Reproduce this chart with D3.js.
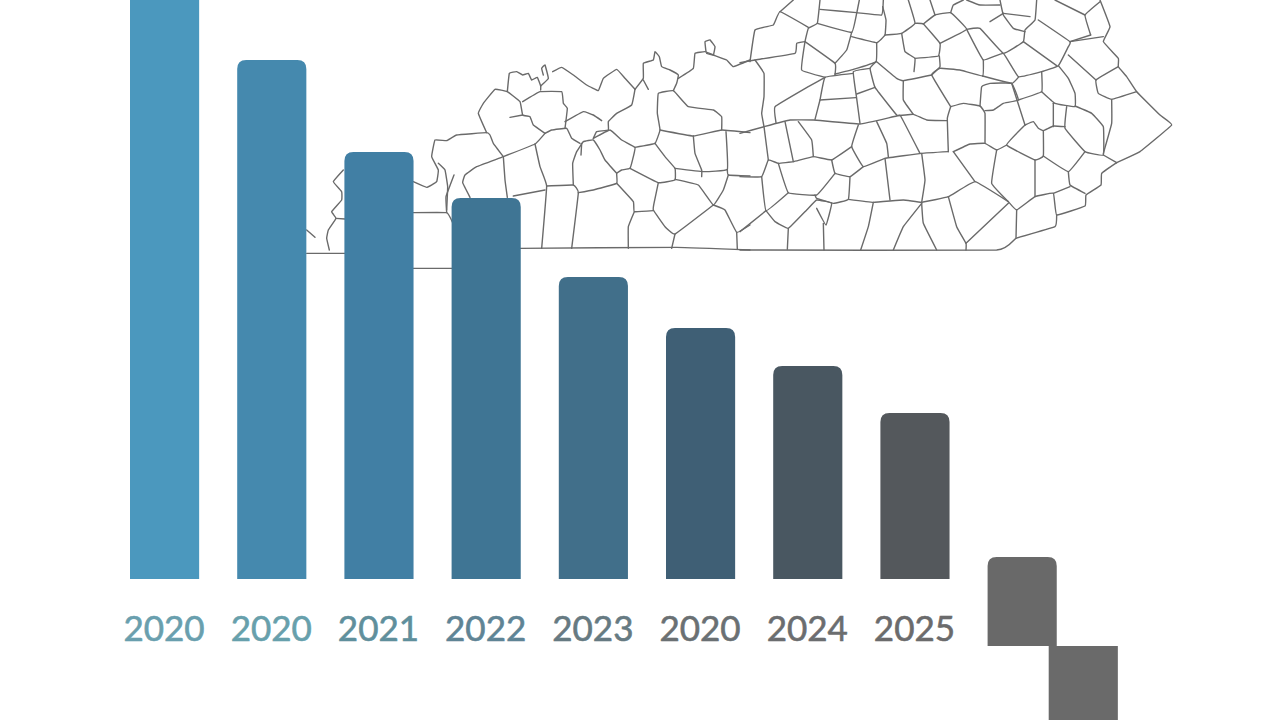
<!DOCTYPE html>
<html><head><meta charset="utf-8">
<style>html,body{margin:0;padding:0;background:#fff;overflow:hidden}svg{display:block}</style>
<script src="https://cdnjs.cloudflare.com/ajax/libs/d3/7.8.5/d3.min.js"></script>
</head><body><svg id="c" width="1280" height="720"></svg>
<script>
const barSlots  = [0,1,2,3,4,5,6,7,8,8.57];
const barTops   = [600,519,427,381,302,251,213,166,22,-67];
const barBases  = [0,0,0,0,0,0,0,0,-67,-160];
const barColors = ["#4b98be","#4589ae","#417fa4","#3f7594","#416f8a","#3f5f75","#495761","#54585c","#696969","#6a6a6a"];
const tickLabels = ["2020","2020","2021","2022","2023","2020","2024","2025"];
const tickColors = ["#699fae","#67a0ac","#5f8f9c","#5f8495","#667a82","#6a7073","#6b6d6f","#6b6b6c"];

const mapWest = [
[[130,510],[100,545],[125,575],[125,600],[95,635],[108,655],[85,690],[80,715],[88,750]],
[[20,760],[135,760]],[[340,805],[460,805]],[[20,690],[45,712]],[[135,657],[108,655]],
[[340,545],[380,562],[410,545],[415,510],[395,470],[405,420],[440,422],[470,405],[560,398],[570,405],[580,430],[610,470]],
[[560,398],[535,340],[550,310],[585,268],[622,275],[660,305],[668,345],[690,350],[700,375],[735,400]],
[[668,345],[630,352]],
[[622,275],[628,220],[650,215],[668,225],[685,220],[695,240],[712,232],[722,258],[722,270]],
[[722,258],[745,235],[735,195],[725,205],[730,225]],
[[758,215],[785,202],[820,225],[860,255],[895,272],[910,235],[950,208],[975,235],[1005,268]],
[[668,305],[720,275],[785,275],[790,310],[802,325],[795,385]],
[[795,365],[850,335],[880,345],[905,362]],
[[735,400],[755,390],[800,385],[815,415],[840,430]],
[[735,400],[705,432],[610,470],[530,500],[495,525],[488,548],[510,592]],
[[610,470],[615,540],[622,592]],
[[705,432],[720,500],[740,558],[725,745]],
[[640,588],[735,570]],
[[740,558],[820,555],[835,578],[815,745]],
[[820,555],[818,490],[830,455],[850,425],[880,420],[900,450],[915,480],[950,520]],
[[845,430],[843,465]],
[[835,578],[880,570],[950,550],[950,520],[965,510],[990,505],[1000,470],[1005,442],[965,420],[930,390],[880,415]],
[[880,415],[890,395],[925,390],[925,365],[950,340],[995,315],[1005,268]],
[[1005,268],[1030,235],[1030,190],[1060,180],[1065,155],[1078,170],[1085,200],[1110,210],[1135,225],[1130,250],[1120,272]],
[[1135,235],[1180,205],[1185,160],[1215,155],[1240,165],[1280,180],[1300,200],[1350,180]],
[[1218,155],[1215,125],[1230,120],[1245,140],[1240,165],[1220,160]],
[[1030,240],[1045,268]],
[[1005,442],[1065,430],[1080,390],[1072,340],[1075,280],[1120,272],[1165,320],[1240,330],[1265,350],[1265,390]],
[[1080,390],[1180,408],[1265,390],[1350,398]],
[[1065,430],[1095,470],[1125,505],[1125,540],[1075,548],[990,505]],
[[1180,408],[1185,460],[1205,510],[1205,530]],
[[1125,505],[1210,515],[1282,508],[1278,395]],
[[1282,508],[1285,525],[1350,528]],
[[1285,525],[1270,570],[1240,615],[1195,555],[1125,538]],
[[1075,548],[1062,610],[1060,630],[1095,680],[1125,702],[1240,615]],
[[950,550],[1000,605],[1003,635],[1060,632]],
[[1003,635],[985,680],[985,745]],
[[1125,702],[1115,745]],
[[1240,615],[1275,630],[1310,697],[1350,675]],
[[1310,697],[1312,748]],
[[660,745],[1130,742],[1350,750]],
[[340,638],[440,638],[458,668]],
[[440,638],[438,590],[462,525]],
[[415,490],[435,510],[443,560],[440,630]]
];
const mapEast = [
[[0,188],[45,180],[165,160],[170,130],[195,125]],
[[45,180],[72,220],[72,290],[65,340],[72,380]],
[[0,400],[72,380],[150,360],[220,360],[360,372],[470,348],[520,343],[560,360],[620,362]],
[[30,185],[45,90],[100,75],[120,35],[205,82]],
[[120,35],[160,0]],
[[240,0],[232,70],[205,85],[195,125],[185,210],[255,232]],
[[195,125],[285,190],[285,225]],
[[232,70],[335,97],[350,40],[358,0]],
[[240,28],[350,38],[425,45],[430,0]],
[[335,97],[320,150],[285,190]],
[[335,110],[410,128],[435,105],[438,60],[428,20]],
[[410,128],[408,185],[340,208],[285,222]],
[[435,105],[485,100],[525,70],[505,0]],
[[485,100],[495,155],[525,175],[522,215]],
[[525,175],[595,168],[600,130],[550,72],[525,70]],
[[550,72],[585,45],[632,38],[680,88],[600,130]],
[[585,45],[570,0]],
[[632,38],[640,15],[670,0]],
[[680,88],[720,85],[790,160],[850,125],[855,90],[885,60],[890,0]],
[[680,88],[730,180],[790,160],[835,230],[905,215],[955,197],[985,140],[990,125],[895,60]],
[[850,125],[950,197]],
[[598,168],[600,200],[575,225]],
[[730,180],[728,228],[660,210],[600,205],[575,225],[632,320]],
[[575,225],[490,242],[470,235],[410,185]],
[[408,185],[390,205],[405,262],[470,345],[482,348],[540,460]],
[[390,205],[340,215],[350,295],[360,370]],
[[340,220],[255,232],[240,300],[225,358]],
[[255,232],[205,260],[105,320],[108,368]],
[[240,300],[348,293]],
[[350,282],[405,262]],
[[490,242],[490,300],[520,343]],
[[632,320],[622,355],[625,455]],
[[632,320],[670,310],[720,318],[735,340],[735,430]],
[[720,318],[725,260],[750,250],[815,250],[835,300],[790,310],[760,330],[735,332]],
[[728,228],[815,250],[835,232]],
[[835,300],[905,275],[905,215]],
[[815,250],[855,375]],
[[905,275],[945,310],[1005,320],[1005,280],[985,235],[955,197]],
[[940,310],[940,380]],
[[980,320],[975,385],[1035,455],[1090,465],[1090,380],[1055,340],[1005,318]],
[[855,375],[880,365],[895,385],[910,392],[940,378],[975,380]],
[[855,375],[800,435],[885,480],[910,468],[910,392]],
[[910,468],[985,515],[1035,455]],
[[885,480],[885,590]],
[[800,435],[770,450],[735,430],[690,432],[640,455]],
[[770,450],[755,550],[805,605]],
[[625,455],[545,460],[435,475],[370,500],[335,440],[355,375]],
[[410,365],[440,430],[445,470]],
[[335,440],[275,480],[220,470],[160,485],[115,490],[85,480],[65,530],[0,530]],
[[72,380],[85,480]],
[[135,365],[160,485]],
[[175,365],[215,420],[220,470]],
[[275,480],[285,520],[330,530],[370,500]],
[[285,520],[230,585],[145,578],[115,490]],
[[330,530],[325,598],[280,610],[230,595],[225,585]],
[[435,475],[450,600]],
[[325,598],[400,607],[490,600],[545,607],[625,590],[705,545],[805,605]],
[[545,460],[555,540],[545,607]],
[[640,455],[705,545]],
[[65,530],[78,632],[145,578]],
[[78,632],[0,695]],
[[78,632],[105,665],[145,685],[200,630],[230,600],[275,610],[258,675],[230,625]],
[[145,685],[142,748]],
[[250,670],[252,750]],
[[400,607],[385,680],[362,750]],
[[545,610],[490,680],[460,750]],
[[545,610],[550,670],[590,750]],
[[625,590],[650,680],[678,730],[678,750]],
[[678,730],[805,610]],
[[805,605],[830,630],[885,590],[940,580],[950,645],[1035,618],[1038,585],[1083,555],[1085,520],[1130,488]],
[[830,630],[828,715]],
[[0,750],[770,750],[828,715],[945,680],[950,645]],
[[1130,488],[1090,465]],
[[1130,488],[1200,455],[1295,375],[1260,345],[1190,275],[1160,230],[1135,200],[1135,175],[1090,125],[1110,80],[1080,0]],
[[1190,275],[1115,298],[1075,280],[1068,240],[1135,200]],
[[1068,240],[985,165]],
[[990,125],[1090,110]],
[[1115,298],[1115,370],[1090,460]],
[[1052,105],[1035,45],[1080,5]],
[[1035,45],[945,0]],
[[1052,105],[990,125]],
[[985,515],[990,555],[1035,580]],
[[940,580],[990,560]],
[[780,0],[790,45],[820,85],[855,95]],
[[790,40],[750,65]],
[[790,40],[870,50]],
[[680,0],[720,15],[780,15]]
];

const svg = d3.select("#c");
const x = d3.scaleLinear().domain([0,1]).range([130,237.2]);
const y = d3.scaleLinear().domain([0,579]).range([579,0]);
const barW = x(0.645)-x(0);

const mapY = d3.scaleLinear().domain([0,840]).range([0,280]);
const westX = d3.scaleLinear().domain([0,1350]).range([300,750]);
const eastX = d3.scaleLinear().domain([0,1320]).range([740,1180]);
const lineW = d3.line().x(d=>westX(d[0])).y(d=>mapY(d[1])).curve(d3.curveCardinal.tension(0.75));
const lineE = d3.line().x(d=>eastX(d[0])).y(d=>mapY(d[1])).curve(d3.curveCardinal.tension(0.75));
const map = svg.append("g").attr("fill","none").attr("stroke","#6a6a6a").attr("stroke-width",1.4).attr("stroke-linejoin","round").attr("stroke-linecap","round");
map.selectAll("path.w").data(mapWest).join("path").attr("class","w").attr("d",lineW);
map.selectAll("path.e").data(mapEast).join("path").attr("class","e").attr("d",lineE);

const r = 9;
function barPath(i){
  const x0=x(barSlots[i]), x1=x0+barW, t=y(barTops[i]), b=y(barBases[i]);
  const p=d3.path();
  if(i<9){ p.moveTo(x0,b); p.lineTo(x0,t+r); p.quadraticCurveTo(x0,t,x0+r,t); p.lineTo(x1-r,t); p.quadraticCurveTo(x1,t,x1,t+r); p.lineTo(x1,b); p.closePath(); }
  else { p.rect(x0,t,barW,b-t); }
  return p.toString();
}
svg.append("g").selectAll("path").data(barSlots).join("path")
  .attr("d",(d,i)=>barPath(i)).attr("fill",(d,i)=>barColors[i]);

svg.append("g").selectAll("text").data(tickLabels).join("text")
  .attr("x",(d,i)=>x(i)+barW/2-0.5).attr("y",y(-62))
  .attr("text-anchor","middle")
  .attr("font-family","Lato, 'Open Sans', sans-serif").attr("font-size",35)
  .attr("stroke",(d,i)=>tickColors[i]).attr("stroke-width",0.6)
  .attr("fill",(d,i)=>tickColors[i]).text(d=>d);
</script></body></html>
